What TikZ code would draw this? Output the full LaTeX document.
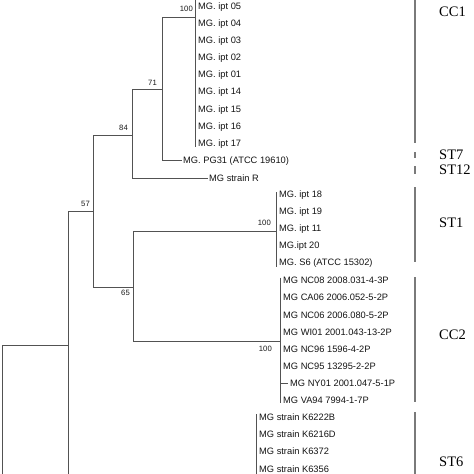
\documentclass[tikz,border=0pt]{standalone}
\usepackage{fontspec}
\newfontfamily\leaffont{Liberation Sans}
\newfontfamily\grpfont{Liberation Serif}
\tikzset{
  leaf/.style={anchor=west, inner sep=0pt, text=black!92, font=\leaffont\fontsize{9.3}{11}\selectfont},
  boot/.style={anchor=east, inner sep=0pt, text=black!90, font=\leaffont\fontsize{7.7}{9}\selectfont},
  grp/.style={anchor=west, inner sep=0pt, text=black, font=\grpfont\fontsize{14.5}{16}\selectfont},
  branch/.style={draw=black!68, line width=1pt},
  grpbar/.style={draw=black!52, line width=1.4pt},
}
\begin{document}
\begin{tikzpicture}[x=1pt,y=-1pt]
\useasboundingbox (0,0) rectangle (474,474);
\clip (0,0) rectangle (474,474);
\fill[white] (0,0) rectangle (474,474);
\def\ry#1{\fpeval{7+17.1*#1}}
% leaf labels
\node[leaf] (l0)  at (198,{\ry{0}})  {MG. ipt 05};
\node[leaf] (l1)  at (198,{\ry{1}})  {MG. ipt 04};
\node[leaf] (l2)  at (198,{\ry{2}})  {MG. ipt 03};
\node[leaf] (l3)  at (198,{\ry{3}})  {MG. ipt 02};
\node[leaf] (l4)  at (198,{\ry{4}})  {MG. ipt 01};
\node[leaf] (l5)  at (198,{\ry{5}})  {MG. ipt 14};
\node[leaf] (l6)  at (198,{\ry{6}})  {MG. ipt 15};
\node[leaf] (l7)  at (198,{\ry{7}})  {MG. ipt 16};
\node[leaf] (l8)  at (198,{\ry{8}})  {MG. ipt 17};
\node[leaf] (pg31) at (183,{\ry{9}}) {MG. PG31 (ATCC 19610)};
\node[leaf] (strR) at (209,{\ry{10}}) {MG strain R};
\node[leaf] (l11) at (279,{\ry{11}}) {MG. ipt 18};
\node[leaf] (l12) at (279,{\ry{12}}) {MG. ipt 19};
\node[leaf] (l13) at (279,{\ry{13}}) {MG. ipt 11};
\node[leaf] (l14) at (279,{\ry{14}}) {MG.ipt 20};
\node[leaf] (l15) at (279,{\ry{15}}) {MG. S6 (ATCC 15302)};
\node[leaf] (l16) at (283,{\ry{16}}) {MG NC08 2008.031-4-3P};
\node[leaf] (l17) at (283,{\ry{17}}) {MG CA06 2006.052-5-2P};
\node[leaf] (l18) at (283,{\ry{18}}) {MG NC06 2006.080-5-2P};
\node[leaf] (l19) at (283,{\ry{19}}) {MG WI01 2001.043-13-2P};
\node[leaf] (l20) at (283,{\ry{20}}) {MG NC96 1596-4-2P};
\node[leaf] (l21) at (283,{\ry{21}}) {MG NC95 13295-2-2P};
\node[leaf] (ny01) at (290,{\ry{22}}) {MG NY01 2001.047-5-1P};
\node[leaf] (l23) at (283,{\ry{23}}) {MG VA94 7994-1-7P};
\node[leaf] (l24) at (259,{\ry{24}}) {MG strain K6222B};
\node[leaf] (l25) at (259,{\ry{25}}) {MG strain K6216D};
\node[leaf] (l26) at (259,{\ry{26}}) {MG strain K6372};
\node[leaf] (l27) at (259,{\ry{27}}) {MG strain K6356};
% internal nodes
\coordinate (c1) at (195,17);
\coordinate (c1top) at (195,-5);
\coordinate (c1bot) at (195,{\ry{8}+3});
\coordinate (n71) at (162,89);
\coordinate (n84) at (132,135);
\coordinate (n57) at (93,211);
\coordinate (n65) at (133,287);
\coordinate (st1) at (276,231);
\coordinate (st1top) at (276,{\ry{11}-3});
\coordinate (st1bot) at (276,{\ry{15}+3});
\coordinate (cc2) at (280,341);
\coordinate (cc2top) at (280,{\ry{16}-3});
\coordinate (cc2bot) at (280,{\ry{23}+3});
\coordinate (ny01j) at (280,{\ry{22}});
\coordinate (n68) at (68,345);
\coordinate (n68bot) at (68,480);
\coordinate (root) at (2,345);
\coordinate (rootbot) at (2,480);
\coordinate (st6top) at (256,{\ry{24}-3});
\coordinate (st6bot) at (256,480);
% branches
\draw[branch] (c1top) -- (c1bot);
\draw[branch] (n71) |- (c1);
\draw[branch] (n71) |- ([xshift=-1.5pt]pg31.west);
\draw[branch] (n84) |- (n71);
\draw[branch] (n84) |- ([xshift=-1.5pt]strR.west);
\draw[branch] (n57) |- (n84);
\draw[branch] (n57) |- (n65);
\draw[branch] (n68) |- (n57);
\draw[branch] (n68) -- (n68bot);
\draw[branch] (root) -- (n68);
\draw[branch] (root) -- (rootbot);
\draw[branch] (n65) |- (st1);
\draw[branch] (n65) |- (cc2);
\draw[branch] (st1top) -- (st1bot);
\draw[branch] (cc2top) -- (cc2bot);
\draw[branch] (ny01j) -- ([xshift=-2.5pt]ny01.west);
\draw[branch] (st6top) -- (st6bot);
% bootstrap values
\node[boot] (b100a) at (193,9) {100};
\node[boot] (b71) at (157,83) {71};
\node[boot] (b84) at (128,128) {84};
\node[boot] (b57) at (90,204) {57};
\node[boot] (b65) at (130,293) {65};
\node[boot] (b100b) at (271,223) {100};
\node[boot] (b100c) at (272,{\ry{20}}) {100};
% group bars
\coordinate (g1a) at (415,-5);  \coordinate (g1b) at (415,143);
\coordinate (g2a) at (415,152); \coordinate (g2b) at (415,158);
\coordinate (g3a) at (415,166); \coordinate (g3b) at (415,174);
\coordinate (g4a) at (415,187); \coordinate (g4b) at (415,262);
\coordinate (g5a) at (415,277); \coordinate (g5b) at (415,402);
\coordinate (g6a) at (415,412); \coordinate (g6b) at (415,480);
\draw[grpbar] (g1a) -- (g1b);
\draw[grpbar] (g2a) -- (g2b);
\draw[grpbar] (g3a) -- (g3b);
\draw[grpbar] (g4a) -- (g4b);
\draw[grpbar] (g5a) -- (g5b);
\draw[grpbar] (g6a) -- (g6b);
\node[grp] (gCC1) at (439,12) {CC1};
\node[grp] (gST7) at (439,155) {ST7};
\node[grp] (gST12) at (439,170) {ST12};
\node[grp] (gST1) at (439,223) {ST1};
\node[grp] (gCC2) at (439,335) {CC2};
\node[grp] (gST6) at (439,462) {ST6};
\end{tikzpicture}
\end{document}
